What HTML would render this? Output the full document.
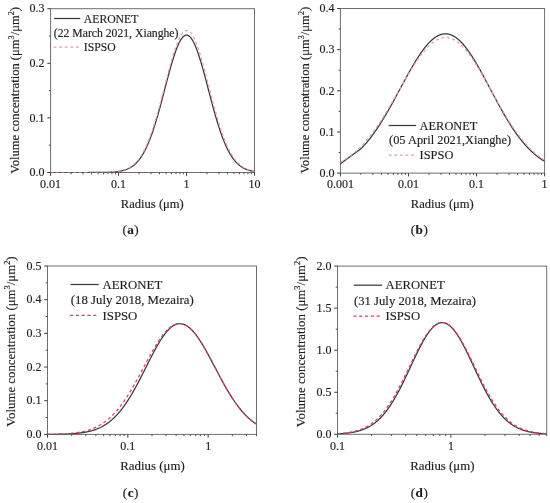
<!DOCTYPE html>
<html><head><meta charset="utf-8"><title>Volume concentration figure</title>
<style>html,body{margin:0;padding:0;background:#fff}body{width:550px;height:503px;position:relative;overflow:hidden}text{stroke:#1e1e1e;stroke-width:0.15px}</style>
</head><body>
<svg width="550" height="503" viewBox="0 0 550 503" style="position:absolute;left:0;top:0;filter:blur(0.3px)">
<rect width="550" height="503" fill="#fff"/>
<g font-family="'Liberation Serif','Times New Roman',serif" fill="#1e1e1e"><rect x="50.6" y="8.7" width="203.9" height="163.8" fill="none" stroke="#6e6e6e" stroke-width="1.0"/>
<clipPath id="clipa"><rect x="50.6" y="5.699999999999999" width="203.9" height="166.8"/></clipPath>
<path d="M50.60,172.50 L51.11,172.50 L51.62,172.50 L52.13,172.50 L52.64,172.50 L53.15,172.50 L53.66,172.50 L54.17,172.50 L54.68,172.50 L55.19,172.50 L55.70,172.50 L56.21,172.50 L56.72,172.50 L57.23,172.50 L57.74,172.50 L58.25,172.50 L58.76,172.50 L59.27,172.50 L59.78,172.50 L60.29,172.50 L60.79,172.50 L61.30,172.50 L61.81,172.50 L62.32,172.50 L62.83,172.50 L63.34,172.50 L63.85,172.50 L64.36,172.50 L64.87,172.50 L65.38,172.50 L65.89,172.50 L66.40,172.50 L66.91,172.50 L67.42,172.50 L67.93,172.50 L68.44,172.50 L68.95,172.50 L69.46,172.50 L69.97,172.50 L70.48,172.50 L70.99,172.50 L71.50,172.50 L72.01,172.50 L72.52,172.50 L73.03,172.50 L73.54,172.50 L74.05,172.50 L74.56,172.50 L75.07,172.50 L75.58,172.50 L76.09,172.50 L76.60,172.50 L77.11,172.50 L77.62,172.50 L78.13,172.50 L78.64,172.50 L79.15,172.50 L79.66,172.50 L80.17,172.50 L80.68,172.50 L81.19,172.50 L81.69,172.50 L82.20,172.50 L82.71,172.50 L83.22,172.50 L83.73,172.50 L84.24,172.50 L84.75,172.50 L85.26,172.50 L85.77,172.50 L86.28,172.50 L86.79,172.50 L87.30,172.50 L87.81,172.50 L88.32,172.49 L88.83,172.49 L89.34,172.49 L89.85,172.49 L90.36,172.49 L90.87,172.49 L91.38,172.49 L91.89,172.49 L92.40,172.49 L92.91,172.49 L93.42,172.49 L93.93,172.48 L94.44,172.48 L94.95,172.48 L95.46,172.48 L95.97,172.48 L96.48,172.47 L96.99,172.47 L97.50,172.47 L98.01,172.47 L98.52,172.46 L99.03,172.46 L99.54,172.45 L100.05,172.45 L100.56,172.44 L101.07,172.44 L101.58,172.43 L102.08,172.43 L102.59,172.42 L103.10,172.41 L103.61,172.40 L104.12,172.40 L104.63,172.39 L105.14,172.37 L105.65,172.36 L106.16,172.35 L106.67,172.34 L107.18,172.32 L107.69,172.31 L108.20,172.29 L108.71,172.27 L109.22,172.25 L109.73,172.23 L110.24,172.21 L110.75,172.18 L111.26,172.16 L111.77,172.13 L112.28,172.10 L112.79,172.06 L113.30,172.03 L113.81,171.99 L114.32,171.95 L114.83,171.90 L115.34,171.85 L115.85,171.80 L116.36,171.75 L116.87,171.69 L117.38,171.62 L117.89,171.56 L118.40,171.48 L118.91,171.41 L119.42,171.33 L119.93,171.24 L120.44,171.14 L120.95,171.04 L121.46,170.94 L121.97,170.82 L122.47,170.70 L122.98,170.58 L123.49,170.44 L124.00,170.30 L124.51,170.14 L125.02,169.98 L125.53,169.81 L126.04,169.63 L126.55,169.44 L127.06,169.23 L127.57,169.02 L128.08,168.79 L128.59,168.55 L129.10,168.30 L129.61,168.03 L130.12,167.75 L130.63,167.45 L131.14,167.14 L131.65,166.81 L132.16,166.46 L132.67,166.10 L133.18,165.72 L133.69,165.32 L134.20,164.90 L134.71,164.47 L135.22,164.01 L135.73,163.53 L136.24,163.02 L136.75,162.50 L137.26,161.95 L137.77,161.38 L138.28,160.78 L138.79,160.16 L139.30,159.51 L139.81,158.84 L140.32,158.13 L140.83,157.40 L141.34,156.65 L141.85,155.86 L142.36,155.04 L142.86,154.20 L143.37,153.32 L143.88,152.41 L144.39,151.47 L144.90,150.50 L145.41,149.50 L145.92,148.47 L146.43,147.40 L146.94,146.30 L147.45,145.16 L147.96,143.99 L148.47,142.79 L148.98,141.56 L149.49,140.29 L150.00,138.98 L150.51,137.65 L151.02,136.28 L151.53,134.88 L152.04,133.44 L152.55,131.97 L153.06,130.47 L153.57,128.94 L154.08,127.38 L154.59,125.78 L155.10,124.16 L155.61,122.51 L156.12,120.83 L156.63,119.12 L157.14,117.39 L157.65,115.63 L158.16,113.85 L158.67,112.04 L159.18,110.22 L159.69,108.37 L160.20,106.51 L160.71,104.63 L161.22,102.73 L161.73,100.82 L162.24,98.90 L162.75,96.97 L163.25,95.03 L163.76,93.08 L164.27,91.13 L164.78,89.18 L165.29,87.23 L165.80,85.28 L166.31,83.33 L166.82,81.39 L167.33,79.46 L167.84,77.54 L168.35,75.64 L168.86,73.75 L169.37,71.88 L169.88,70.03 L170.39,68.20 L170.90,66.40 L171.41,64.62 L171.92,62.88 L172.43,61.17 L172.94,59.50 L173.45,57.86 L173.96,56.27 L174.47,54.71 L174.98,53.21 L175.49,51.74 L176.00,50.33 L176.51,48.97 L177.02,47.66 L177.53,46.41 L178.04,45.22 L178.55,44.08 L179.06,43.01 L179.57,42.00 L180.08,41.05 L180.59,40.17 L181.10,39.35 L181.61,38.61 L182.12,37.93 L182.63,37.33 L183.13,36.79 L183.64,36.33 L184.15,35.95 L184.66,35.63 L185.17,35.39 L185.68,35.23 L186.19,35.14 L186.70,35.13 L187.21,35.19 L187.72,35.33 L188.23,35.54 L188.74,35.83 L189.25,36.20 L189.76,36.63 L190.27,37.14 L190.78,37.72 L191.29,38.37 L191.80,39.10 L192.31,39.89 L192.82,40.75 L193.33,41.67 L193.84,42.66 L194.35,43.72 L194.86,44.83 L195.37,46.01 L195.88,47.24 L196.39,48.53 L196.90,49.87 L197.41,51.27 L197.92,52.71 L198.43,54.21 L198.94,55.75 L199.45,57.33 L199.96,58.95 L200.47,60.61 L200.98,62.31 L201.49,64.04 L202.00,65.80 L202.51,67.60 L203.02,69.41 L203.53,71.26 L204.03,73.12 L204.54,75.00 L205.05,76.90 L205.56,78.82 L206.07,80.75 L206.58,82.68 L207.09,84.63 L207.60,86.58 L208.11,88.53 L208.62,90.48 L209.13,92.43 L209.64,94.38 L210.15,96.32 L210.66,98.26 L211.17,100.18 L211.68,102.10 L212.19,104.00 L212.70,105.88 L213.21,107.75 L213.72,109.61 L214.23,111.44 L214.74,113.25 L215.25,115.04 L215.76,116.81 L216.27,118.55 L216.78,120.26 L217.29,121.95 L217.80,123.61 L218.31,125.25 L218.82,126.85 L219.33,128.42 L219.84,129.96 L220.35,131.48 L220.86,132.95 L221.37,134.40 L221.88,135.81 L222.39,137.19 L222.90,138.54 L223.41,139.86 L223.91,141.14 L224.42,142.38 L224.93,143.60 L225.44,144.78 L225.95,145.92 L226.46,147.03 L226.97,148.11 L227.48,149.16 L227.99,150.17 L228.50,151.15 L229.01,152.10 L229.52,153.02 L230.03,153.91 L230.54,154.76 L231.05,155.59 L231.56,156.39 L232.07,157.15 L232.58,157.89 L233.09,158.60 L233.60,159.29 L234.11,159.94 L234.62,160.58 L235.13,161.18 L235.64,161.76 L236.15,162.32 L236.66,162.85 L237.17,163.36 L237.68,163.85 L238.19,164.31 L238.70,164.76 L239.21,165.18 L239.72,165.59 L240.23,165.98 L240.74,166.35 L241.25,166.70 L241.76,167.03 L242.27,167.35 L242.78,167.65 L243.29,167.94 L243.80,168.21 L244.31,168.47 L244.81,168.71 L245.32,168.94 L245.83,169.16 L246.34,169.37 L246.85,169.56 L247.36,169.75 L247.87,169.93 L248.38,170.09 L248.89,170.25 L249.40,170.39 L249.91,170.53 L250.42,170.66 L250.93,170.79 L251.44,170.90 L251.95,171.01 L252.46,171.11 L252.97,171.21 L253.48,171.30 L253.99,171.38 L254.50,171.46" fill="none" stroke="#383838" stroke-width="1.25" clip-path="url(#clipa)"/>
<path d="M50.60,172.50 L51.11,172.50 L51.62,172.50 L52.13,172.50 L52.64,172.50 L53.15,172.50 L53.66,172.50 L54.17,172.50 L54.68,172.50 L55.19,172.50 L55.70,172.50 L56.21,172.50 L56.72,172.50 L57.23,172.50 L57.74,172.50 L58.25,172.50 L58.76,172.50 L59.27,172.50 L59.78,172.50 L60.29,172.50 L60.79,172.50 L61.30,172.50 L61.81,172.50 L62.32,172.50 L62.83,172.50 L63.34,172.50 L63.85,172.50 L64.36,172.50 L64.87,172.50 L65.38,172.50 L65.89,172.50 L66.40,172.50 L66.91,172.50 L67.42,172.50 L67.93,172.50 L68.44,172.50 L68.95,172.50 L69.46,172.50 L69.97,172.50 L70.48,172.50 L70.99,172.50 L71.50,172.50 L72.01,172.50 L72.52,172.50 L73.03,172.50 L73.54,172.50 L74.05,172.50 L74.56,172.50 L75.07,172.50 L75.58,172.50 L76.09,172.50 L76.60,172.50 L77.11,172.50 L77.62,172.50 L78.13,172.50 L78.64,172.50 L79.15,172.50 L79.66,172.50 L80.17,172.50 L80.68,172.50 L81.19,172.50 L81.69,172.50 L82.20,172.50 L82.71,172.50 L83.22,172.50 L83.73,172.50 L84.24,172.50 L84.75,172.50 L85.26,172.50 L85.77,172.50 L86.28,172.50 L86.79,172.49 L87.30,172.49 L87.81,172.49 L88.32,172.49 L88.83,172.49 L89.34,172.49 L89.85,172.49 L90.36,172.49 L90.87,172.49 L91.38,172.49 L91.89,172.49 L92.40,172.48 L92.91,172.48 L93.42,172.48 L93.93,172.48 L94.44,172.48 L94.95,172.47 L95.46,172.47 L95.97,172.47 L96.48,172.47 L96.99,172.46 L97.50,172.46 L98.01,172.46 L98.52,172.45 L99.03,172.45 L99.54,172.44 L100.05,172.44 L100.56,172.43 L101.07,172.42 L101.58,172.42 L102.08,172.41 L102.59,172.40 L103.10,172.39 L103.61,172.38 L104.12,172.37 L104.63,172.36 L105.14,172.35 L105.65,172.33 L106.16,172.32 L106.67,172.30 L107.18,172.28 L107.69,172.26 L108.20,172.24 L108.71,172.22 L109.22,172.20 L109.73,172.17 L110.24,172.15 L110.75,172.12 L111.26,172.09 L111.77,172.05 L112.28,172.02 L112.79,171.98 L113.30,171.94 L113.81,171.89 L114.32,171.84 L114.83,171.79 L115.34,171.74 L115.85,171.68 L116.36,171.61 L116.87,171.55 L117.38,171.47 L117.89,171.40 L118.40,171.32 L118.91,171.23 L119.42,171.13 L119.93,171.04 L120.44,170.93 L120.95,170.82 L121.46,170.70 L121.97,170.57 L122.47,170.44 L122.98,170.30 L123.49,170.14 L124.00,169.98 L124.51,169.81 L125.02,169.63 L125.53,169.44 L126.04,169.24 L126.55,169.03 L127.06,168.81 L127.57,168.57 L128.08,168.32 L128.59,168.06 L129.10,167.78 L129.61,167.49 L130.12,167.18 L130.63,166.86 L131.14,166.52 L131.65,166.17 L132.16,165.79 L132.67,165.40 L133.18,164.99 L133.69,164.56 L134.20,164.11 L134.71,163.64 L135.22,163.15 L135.73,162.63 L136.24,162.09 L136.75,161.53 L137.26,160.95 L137.77,160.34 L138.28,159.70 L138.79,159.04 L139.30,158.36 L139.81,157.64 L140.32,156.90 L140.83,156.13 L141.34,155.33 L141.85,154.50 L142.36,153.64 L142.86,152.75 L143.37,151.83 L143.88,150.88 L144.39,149.89 L144.90,148.88 L145.41,147.83 L145.92,146.75 L146.43,145.63 L146.94,144.48 L147.45,143.30 L147.96,142.09 L148.47,140.84 L148.98,139.56 L149.49,138.24 L150.00,136.89 L150.51,135.51 L151.02,134.09 L151.53,132.64 L152.04,131.16 L152.55,129.64 L153.06,128.10 L153.57,126.52 L154.08,124.91 L154.59,123.27 L155.10,121.60 L155.61,119.91 L156.12,118.18 L156.63,116.43 L157.14,114.66 L157.65,112.86 L158.16,111.03 L158.67,109.19 L159.18,107.32 L159.69,105.43 L160.20,103.53 L160.71,101.61 L161.22,99.67 L161.73,97.72 L162.24,95.77 L162.75,93.80 L163.25,91.82 L163.76,89.84 L164.27,87.85 L164.78,85.87 L165.29,83.88 L165.80,81.90 L166.31,79.92 L166.82,77.95 L167.33,75.99 L167.84,74.03 L168.35,72.10 L168.86,70.18 L169.37,68.28 L169.88,66.40 L170.39,64.54 L170.90,62.71 L171.41,60.91 L171.92,59.14 L172.43,57.40 L172.94,55.70 L173.45,54.03 L173.96,52.41 L174.47,50.83 L174.98,49.29 L175.49,47.80 L176.00,46.36 L176.51,44.97 L177.02,43.64 L177.53,42.36 L178.04,41.13 L178.55,39.97 L179.06,38.87 L179.57,37.83 L180.08,36.85 L180.59,35.94 L181.10,35.09 L181.61,34.32 L182.12,33.61 L182.63,32.98 L183.13,32.42 L183.64,31.92 L184.15,31.51 L184.66,31.16 L185.17,30.90 L185.68,30.70 L186.19,30.58 L186.70,30.54 L187.21,30.57 L187.72,30.68 L188.23,30.86 L188.74,31.12 L189.25,31.46 L189.76,31.86 L190.27,32.35 L190.78,32.90 L191.29,33.52 L191.80,34.22 L192.31,34.99 L192.82,35.82 L193.33,36.72 L193.84,37.69 L194.35,38.72 L194.86,39.82 L195.37,40.98 L195.88,42.19 L196.39,43.46 L196.90,44.79 L197.41,46.17 L197.92,47.61 L198.43,49.09 L198.94,50.62 L199.45,52.20 L199.96,53.82 L200.47,55.47 L200.98,57.17 L201.49,58.91 L202.00,60.67 L202.51,62.47 L203.02,64.30 L203.53,66.15 L204.03,68.03 L204.54,69.92 L205.05,71.84 L205.56,73.78 L206.07,75.72 L206.58,77.68 L207.09,79.66 L207.60,81.63 L208.11,83.62 L208.62,85.60 L209.13,87.59 L209.64,89.57 L210.15,91.56 L210.66,93.53 L211.17,95.50 L211.68,97.46 L212.19,99.41 L212.70,101.35 L213.21,103.27 L213.72,105.18 L214.23,107.07 L214.74,108.94 L215.25,110.79 L215.76,112.61 L216.27,114.42 L216.78,116.20 L217.29,117.95 L217.80,119.68 L218.31,121.38 L218.82,123.05 L219.33,124.69 L219.84,126.31 L220.35,127.89 L220.86,129.44 L221.37,130.96 L221.88,132.44 L222.39,133.90 L222.90,135.32 L223.41,136.71 L223.91,138.06 L224.42,139.38 L224.93,140.67 L225.44,141.92 L225.95,143.14 L226.46,144.33 L226.97,145.48 L227.48,146.60 L227.99,147.69 L228.50,148.74 L229.01,149.76 L229.52,150.75 L230.03,151.70 L230.54,152.63 L231.05,153.52 L231.56,154.39 L232.07,155.22 L232.58,156.02 L233.09,156.80 L233.60,157.54 L234.11,158.26 L234.62,158.95 L235.13,159.62 L235.64,160.26 L236.15,160.87 L236.66,161.46 L237.17,162.02 L237.68,162.56 L238.19,163.08 L238.70,163.57 L239.21,164.05 L239.72,164.50 L240.23,164.93 L240.74,165.35 L241.25,165.74 L241.76,166.12 L242.27,166.48 L242.78,166.82 L243.29,167.14 L243.80,167.45 L244.31,167.74 L244.81,168.02 L245.32,168.29 L245.83,168.54 L246.34,168.78 L246.85,169.00 L247.36,169.22 L247.87,169.42 L248.38,169.61 L248.89,169.79 L249.40,169.96 L249.91,170.12 L250.42,170.28 L250.93,170.42 L251.44,170.55 L251.95,170.68 L252.46,170.80 L252.97,170.92 L253.48,171.02 L253.99,171.12 L254.50,171.22" fill="none" stroke="#ee98bb" stroke-width="1.25" stroke-dasharray="2.9 2.7" clip-path="url(#clipa)"/>
<line x1="47.300000000000004" y1="172.50" x2="50.6" y2="172.50" stroke="#3c3c3c" stroke-width="1"/>
<text x="44.60" y="176.20" text-anchor="end" font-size="12">0.0</text>
<line x1="48.800000000000004" y1="145.20" x2="50.6" y2="145.20" stroke="#3c3c3c" stroke-width="0.9"/>
<line x1="47.300000000000004" y1="117.90" x2="50.6" y2="117.90" stroke="#3c3c3c" stroke-width="1"/>
<text x="44.60" y="121.60" text-anchor="end" font-size="12">0.1</text>
<line x1="48.800000000000004" y1="90.60" x2="50.6" y2="90.60" stroke="#3c3c3c" stroke-width="0.9"/>
<line x1="47.300000000000004" y1="63.30" x2="50.6" y2="63.30" stroke="#3c3c3c" stroke-width="1"/>
<text x="44.60" y="67.00" text-anchor="end" font-size="12">0.2</text>
<line x1="48.800000000000004" y1="36.00" x2="50.6" y2="36.00" stroke="#3c3c3c" stroke-width="0.9"/>
<line x1="47.300000000000004" y1="8.70" x2="50.6" y2="8.70" stroke="#3c3c3c" stroke-width="1"/>
<text x="44.60" y="12.40" text-anchor="end" font-size="12">0.3</text>
<line x1="50.60" y1="172.5" x2="50.60" y2="175.8" stroke="#3c3c3c" stroke-width="1"/>
<line x1="71.06" y1="172.5" x2="71.06" y2="174.3" stroke="#3c3c3c" stroke-width="0.9"/>
<line x1="83.03" y1="172.5" x2="83.03" y2="174.3" stroke="#3c3c3c" stroke-width="0.9"/>
<line x1="91.52" y1="172.5" x2="91.52" y2="174.3" stroke="#3c3c3c" stroke-width="0.9"/>
<line x1="98.11" y1="172.5" x2="98.11" y2="174.3" stroke="#3c3c3c" stroke-width="0.9"/>
<line x1="103.49" y1="172.5" x2="103.49" y2="174.3" stroke="#3c3c3c" stroke-width="0.9"/>
<line x1="108.04" y1="172.5" x2="108.04" y2="174.3" stroke="#3c3c3c" stroke-width="0.9"/>
<line x1="111.98" y1="172.5" x2="111.98" y2="174.3" stroke="#3c3c3c" stroke-width="0.9"/>
<line x1="115.46" y1="172.5" x2="115.46" y2="174.3" stroke="#3c3c3c" stroke-width="0.9"/>
<line x1="118.57" y1="172.5" x2="118.57" y2="175.8" stroke="#3c3c3c" stroke-width="1"/>
<line x1="139.03" y1="172.5" x2="139.03" y2="174.3" stroke="#3c3c3c" stroke-width="0.9"/>
<line x1="151.00" y1="172.5" x2="151.00" y2="174.3" stroke="#3c3c3c" stroke-width="0.9"/>
<line x1="159.49" y1="172.5" x2="159.49" y2="174.3" stroke="#3c3c3c" stroke-width="0.9"/>
<line x1="166.07" y1="172.5" x2="166.07" y2="174.3" stroke="#3c3c3c" stroke-width="0.9"/>
<line x1="171.46" y1="172.5" x2="171.46" y2="174.3" stroke="#3c3c3c" stroke-width="0.9"/>
<line x1="176.01" y1="172.5" x2="176.01" y2="174.3" stroke="#3c3c3c" stroke-width="0.9"/>
<line x1="179.95" y1="172.5" x2="179.95" y2="174.3" stroke="#3c3c3c" stroke-width="0.9"/>
<line x1="183.42" y1="172.5" x2="183.42" y2="174.3" stroke="#3c3c3c" stroke-width="0.9"/>
<line x1="186.53" y1="172.5" x2="186.53" y2="175.8" stroke="#3c3c3c" stroke-width="1"/>
<line x1="206.99" y1="172.5" x2="206.99" y2="174.3" stroke="#3c3c3c" stroke-width="0.9"/>
<line x1="218.96" y1="172.5" x2="218.96" y2="174.3" stroke="#3c3c3c" stroke-width="0.9"/>
<line x1="227.45" y1="172.5" x2="227.45" y2="174.3" stroke="#3c3c3c" stroke-width="0.9"/>
<line x1="234.04" y1="172.5" x2="234.04" y2="174.3" stroke="#3c3c3c" stroke-width="0.9"/>
<line x1="239.42" y1="172.5" x2="239.42" y2="174.3" stroke="#3c3c3c" stroke-width="0.9"/>
<line x1="243.97" y1="172.5" x2="243.97" y2="174.3" stroke="#3c3c3c" stroke-width="0.9"/>
<line x1="247.91" y1="172.5" x2="247.91" y2="174.3" stroke="#3c3c3c" stroke-width="0.9"/>
<line x1="251.39" y1="172.5" x2="251.39" y2="174.3" stroke="#3c3c3c" stroke-width="0.9"/>
<line x1="254.50" y1="172.5" x2="254.50" y2="175.8" stroke="#3c3c3c" stroke-width="1"/>
<text x="50.60" y="187.70" text-anchor="middle" font-size="12">0.01</text>
<text x="118.57" y="187.70" text-anchor="middle" font-size="12">0.1</text>
<text x="186.53" y="187.70" text-anchor="middle" font-size="12">1</text>
<text x="254.50" y="187.70" text-anchor="middle" font-size="12">10</text>
<text transform="translate(18.7,90.4) rotate(-90)" text-anchor="middle" font-size="12.58">Volume concentration (μm<tspan font-size="8.18" dy="-4.78">3</tspan><tspan dy="4.78">/μm</tspan><tspan font-size="8.18" dy="-4.78">2</tspan><tspan dy="4.78">)</tspan></text>
<text x="152.3" y="207.8" text-anchor="middle" font-size="12.6">Radius (μm)</text>
<text x="130.8" y="233.7" text-anchor="middle" font-size="13.2" letter-spacing="0.45">(<tspan font-weight="bold">a</tspan>)</text>
<line x1="54.1" y1="18.5" x2="80.3" y2="18.5" stroke="#383838" stroke-width="1.25"/>
<line x1="53.6" y1="47.0" x2="79.0" y2="47.0" stroke="#ee98bb" stroke-width="1.25" stroke-dasharray="2.9 2.7"/>
<text x="83.8" y="22.6" font-size="11.7">AERONET</text>
<text x="53.8" y="36.7" font-size="11.7">(22 March 2021, Xianghe)</text>
<text x="83.8" y="51.2" font-size="11.7">ISPSO</text></g>
<g font-family="'Liberation Serif','Times New Roman',serif" fill="#1e1e1e"><rect x="340.4" y="8.5" width="204.20000000000005" height="164.6" fill="none" stroke="#6e6e6e" stroke-width="1.0"/>
<clipPath id="clipb"><rect x="340.4" y="5.5" width="204.20000000000005" height="167.6"/></clipPath>
<path d="M340.40,163.70 L360.89,148.82 L361.35,148.36 L361.81,147.89 L362.27,147.41 L362.73,146.93 L363.19,146.44 L363.65,145.95 L364.11,145.44 L364.56,144.94 L365.02,144.42 L365.48,143.90 L365.94,143.38 L366.40,142.84 L366.86,142.30 L367.32,141.76 L367.78,141.20 L368.24,140.65 L368.70,140.08 L369.16,139.51 L369.62,138.93 L370.08,138.35 L370.53,137.76 L370.99,137.16 L371.45,136.55 L371.91,135.94 L372.37,135.33 L372.83,134.71 L373.29,134.08 L373.75,133.44 L374.21,132.80 L374.67,132.16 L375.13,131.50 L375.59,130.84 L376.05,130.18 L376.51,129.51 L376.96,128.83 L377.42,128.15 L377.88,127.46 L378.34,126.76 L378.80,126.06 L379.26,125.36 L379.72,124.64 L380.18,123.93 L380.64,123.20 L381.10,122.48 L381.56,121.74 L382.02,121.00 L382.48,120.26 L382.94,119.51 L383.39,118.76 L383.85,118.00 L384.31,117.23 L384.77,116.47 L385.23,115.69 L385.69,114.91 L386.15,114.13 L386.61,113.35 L387.07,112.55 L387.53,111.76 L387.99,110.96 L388.45,110.16 L388.91,109.35 L389.37,108.54 L389.82,107.73 L390.28,106.91 L390.74,106.09 L391.20,105.26 L391.66,104.44 L392.12,103.61 L392.58,102.77 L393.04,101.94 L393.50,101.10 L393.96,100.26 L394.42,99.42 L394.88,98.57 L395.34,97.72 L395.79,96.88 L396.25,96.03 L396.71,95.17 L397.17,94.32 L397.63,93.47 L398.09,92.61 L398.55,91.76 L399.01,90.90 L399.47,90.04 L399.93,89.19 L400.39,88.33 L400.85,87.47 L401.31,86.62 L401.77,85.76 L402.22,84.90 L402.68,84.05 L403.14,83.19 L403.60,82.34 L404.06,81.49 L404.52,80.64 L404.98,79.79 L405.44,78.94 L405.90,78.10 L406.36,77.26 L406.82,76.42 L407.28,75.58 L407.74,74.75 L408.20,73.92 L408.65,73.09 L409.11,72.26 L409.57,71.44 L410.03,70.63 L410.49,69.81 L410.95,69.01 L411.41,68.20 L411.87,67.40 L412.33,66.61 L412.79,65.82 L413.25,65.04 L413.71,64.26 L414.17,63.48 L414.63,62.72 L415.08,61.96 L415.54,61.20 L416.00,60.45 L416.46,59.71 L416.92,58.98 L417.38,58.25 L417.84,57.53 L418.30,56.82 L418.76,56.11 L419.22,55.41 L419.68,54.73 L420.14,54.04 L420.60,53.37 L421.06,52.71 L421.51,52.05 L421.97,51.41 L422.43,50.77 L422.89,50.14 L423.35,49.52 L423.81,48.91 L424.27,48.32 L424.73,47.73 L425.19,47.15 L425.65,46.58 L426.11,46.02 L426.57,45.47 L427.03,44.94 L427.48,44.41 L427.94,43.90 L428.40,43.40 L428.86,42.91 L429.32,42.43 L429.78,41.96 L430.24,41.50 L430.70,41.06 L431.16,40.63 L431.62,40.21 L432.08,39.80 L432.54,39.40 L433.00,39.02 L433.46,38.65 L433.91,38.30 L434.37,37.95 L434.83,37.62 L435.29,37.30 L435.75,37.00 L436.21,36.71 L436.67,36.43 L437.13,36.17 L437.59,35.92 L438.05,35.68 L438.51,35.46 L438.97,35.25 L439.43,35.06 L439.89,34.87 L440.34,34.71 L440.80,34.55 L441.26,34.42 L441.72,34.29 L442.18,34.18 L442.64,34.08 L443.10,34.00 L443.56,33.94 L444.02,33.88 L444.48,33.84 L444.94,33.82 L445.40,33.81 L445.86,33.81 L446.32,33.83 L446.77,33.86 L447.23,33.91 L447.69,33.98 L448.15,34.05 L448.61,34.15 L449.07,34.25 L449.53,34.38 L449.99,34.51 L450.45,34.66 L450.91,34.83 L451.37,35.01 L451.83,35.20 L452.29,35.41 L452.75,35.63 L453.20,35.87 L453.66,36.12 L454.12,36.39 L454.58,36.67 L455.04,36.96 L455.50,37.27 L455.96,37.59 L456.42,37.92 L456.88,38.27 L457.34,38.63 L457.80,39.01 L458.26,39.39 L458.72,39.79 L459.17,40.21 L459.63,40.63 L460.09,41.07 L460.55,41.52 L461.01,41.99 L461.47,42.46 L461.93,42.95 L462.39,43.45 L462.85,43.96 L463.31,44.49 L463.77,45.02 L464.23,45.57 L464.69,46.13 L465.15,46.70 L465.60,47.27 L466.06,47.86 L466.52,48.46 L466.98,49.07 L467.44,49.70 L467.90,50.33 L468.36,50.97 L468.82,51.62 L469.28,52.28 L469.74,52.94 L470.20,53.62 L470.66,54.31 L471.12,55.00 L471.58,55.71 L472.03,56.42 L472.49,57.14 L472.95,57.86 L473.41,58.60 L473.87,59.34 L474.33,60.09 L474.79,60.85 L475.25,61.61 L475.71,62.38 L476.17,63.15 L476.63,63.94 L477.09,64.72 L477.55,65.52 L478.01,66.32 L478.46,67.12 L478.92,67.93 L479.38,68.75 L479.84,69.57 L480.30,70.39 L480.76,71.22 L481.22,72.05 L481.68,72.89 L482.14,73.73 L482.60,74.57 L483.06,75.41 L483.52,76.26 L483.98,77.12 L484.44,77.97 L484.89,78.83 L485.35,79.69 L485.81,80.55 L486.27,81.41 L486.73,82.28 L487.19,83.14 L487.65,84.01 L488.11,84.88 L488.57,85.75 L489.03,86.61 L489.49,87.48 L489.95,88.36 L490.41,89.23 L490.86,90.10 L491.32,90.97 L491.78,91.83 L492.24,92.70 L492.70,93.57 L493.16,94.44 L493.62,95.30 L494.08,96.17 L494.54,97.03 L495.00,97.89 L495.46,98.75 L495.92,99.61 L496.38,100.46 L496.84,101.32 L497.29,102.17 L497.75,103.01 L498.21,103.86 L498.67,104.70 L499.13,105.54 L499.59,106.37 L500.05,107.21 L500.51,108.04 L500.97,108.86 L501.43,109.68 L501.89,110.50 L502.35,111.31 L502.81,112.12 L503.27,112.93 L503.72,113.73 L504.18,114.53 L504.64,115.32 L505.10,116.11 L505.56,116.89 L506.02,117.67 L506.48,118.44 L506.94,119.21 L507.40,119.97 L507.86,120.73 L508.32,121.48 L508.78,122.22 L509.24,122.97 L509.70,123.70 L510.15,124.43 L510.61,125.15 L511.07,125.87 L511.53,126.59 L511.99,127.29 L512.45,127.99 L512.91,128.69 L513.37,129.38 L513.83,130.06 L514.29,130.74 L514.75,131.41 L515.21,132.07 L515.67,132.73 L516.12,133.38 L516.58,134.02 L517.04,134.66 L517.50,135.29 L517.96,135.92 L518.42,136.54 L518.88,137.15 L519.34,137.76 L519.80,138.36 L520.26,138.95 L520.72,139.54 L521.18,140.12 L521.64,140.69 L522.10,141.26 L522.55,141.82 L523.01,142.37 L523.47,142.92 L523.93,143.46 L524.39,143.99 L524.85,144.52 L525.31,145.04 L525.77,145.56 L526.23,146.06 L526.69,146.56 L527.15,147.06 L527.61,147.55 L528.07,148.03 L528.53,148.50 L528.98,148.97 L529.44,149.43 L529.90,149.89 L530.36,150.34 L530.82,150.78 L531.28,151.22 L531.74,151.65 L532.20,152.07 L532.66,152.49 L533.12,152.90 L533.58,153.31 L534.04,153.71 L534.50,154.10 L534.96,154.49 L535.41,154.87 L535.87,155.25 L536.33,155.62 L536.79,155.98 L537.25,156.34 L537.71,156.69 L538.17,157.04 L538.63,157.38 L539.09,157.72 L539.55,158.05 L540.01,158.37 L540.47,158.69 L540.93,159.00 L541.39,159.31 L541.84,159.61 L542.30,159.91 L542.76,160.20 L543.22,160.49 L543.68,160.77 L544.14,161.05 L544.60,161.32" fill="none" stroke="#383838" stroke-width="1.25" clip-path="url(#clipb)"/>
<path d="M340.40,162.10 L340.91,161.83 L341.42,161.55 L341.93,161.27 L342.44,160.99 L342.95,160.69 L343.46,160.40 L343.97,160.09 L344.48,159.79 L344.99,159.47 L345.50,159.15 L346.02,158.82 L346.53,158.49 L347.04,158.15 L347.55,157.81 L348.06,157.46 L348.57,157.10 L349.08,156.74 L349.59,156.37 L350.10,156.00 L350.61,155.61 L351.12,155.23 L351.63,154.83 L352.14,154.43 L352.65,154.02 L353.16,153.61 L353.67,153.19 L354.18,152.76 L354.69,152.33 L355.20,151.89 L355.71,151.44 L356.23,150.99 L356.74,150.52 L357.25,150.06 L357.76,149.58 L358.27,149.10 L358.78,148.61 L359.29,148.11 L359.80,147.61 L360.31,147.10 L360.82,146.58 L361.33,146.06 L361.84,145.53 L362.35,144.99 L362.86,144.44 L363.37,143.89 L363.88,143.33 L364.39,142.76 L364.90,142.19 L365.41,141.61 L365.92,141.02 L366.44,140.42 L366.95,139.82 L367.46,139.21 L367.97,138.60 L368.48,137.97 L368.99,137.34 L369.50,136.70 L370.01,136.06 L370.52,135.40 L371.03,134.75 L371.54,134.08 L372.05,133.41 L372.56,132.73 L373.07,132.04 L373.58,131.35 L374.09,130.65 L374.60,129.94 L375.11,129.23 L375.62,128.51 L376.13,127.78 L376.65,127.05 L377.16,126.31 L377.67,125.57 L378.18,124.82 L378.69,124.06 L379.20,123.29 L379.71,122.53 L380.22,121.75 L380.73,120.97 L381.24,120.18 L381.75,119.39 L382.26,118.59 L382.77,117.79 L383.28,116.98 L383.79,116.17 L384.30,115.35 L384.81,114.53 L385.32,113.70 L385.83,112.87 L386.34,112.04 L386.86,111.20 L387.37,110.35 L387.88,109.50 L388.39,108.65 L388.90,107.79 L389.41,106.93 L389.92,106.07 L390.43,105.20 L390.94,104.34 L391.45,103.46 L391.96,102.59 L392.47,101.71 L392.98,100.83 L393.49,99.95 L394.00,99.06 L394.51,98.18 L395.02,97.29 L395.53,96.40 L396.04,95.51 L396.56,94.62 L397.07,93.73 L397.58,92.83 L398.09,91.94 L398.60,91.04 L399.11,90.15 L399.62,89.26 L400.13,88.36 L400.64,87.47 L401.15,86.58 L401.66,85.69 L402.17,84.80 L402.68,83.91 L403.19,83.02 L403.70,82.14 L404.21,81.26 L404.72,80.38 L405.23,79.50 L405.74,78.63 L406.25,77.75 L406.76,76.89 L407.28,76.02 L407.79,75.16 L408.30,74.30 L408.81,73.45 L409.32,72.60 L409.83,71.76 L410.34,70.92 L410.85,70.09 L411.36,69.26 L411.87,68.44 L412.38,67.63 L412.89,66.82 L413.40,66.01 L413.91,65.22 L414.42,64.43 L414.93,63.65 L415.44,62.87 L415.95,62.10 L416.46,61.34 L416.98,60.59 L417.49,59.85 L418.00,59.12 L418.51,58.39 L419.02,57.67 L419.53,56.97 L420.04,56.27 L420.55,55.58 L421.06,54.90 L421.57,54.23 L422.08,53.58 L422.59,52.93 L423.10,52.29 L423.61,51.67 L424.12,51.05 L424.63,50.45 L425.14,49.86 L425.65,49.28 L426.16,48.71 L426.67,48.16 L427.19,47.61 L427.70,47.08 L428.21,46.57 L428.72,46.06 L429.23,45.57 L429.74,45.09 L430.25,44.63 L430.76,44.17 L431.27,43.74 L431.78,43.31 L432.29,42.90 L432.80,42.51 L433.31,42.12 L433.82,41.76 L434.33,41.40 L434.84,41.07 L435.35,40.74 L435.86,40.43 L436.37,40.14 L436.88,39.86 L437.39,39.60 L437.91,39.35 L438.42,39.12 L438.93,38.90 L439.44,38.70 L439.95,38.51 L440.46,38.34 L440.97,38.19 L441.48,38.05 L441.99,37.93 L442.50,37.82 L443.01,37.73 L443.52,37.65 L444.03,37.59 L444.54,37.55 L445.05,37.52 L445.56,37.51 L446.07,37.52 L446.58,37.54 L447.09,37.58 L447.61,37.63 L448.12,37.71 L448.63,37.79 L449.14,37.90 L449.65,38.02 L450.16,38.16 L450.67,38.32 L451.18,38.49 L451.69,38.68 L452.20,38.89 L452.71,39.11 L453.22,39.35 L453.73,39.61 L454.24,39.88 L454.75,40.17 L455.26,40.47 L455.77,40.79 L456.28,41.12 L456.79,41.47 L457.30,41.84 L457.81,42.22 L458.33,42.62 L458.84,43.03 L459.35,43.46 L459.86,43.90 L460.37,44.35 L460.88,44.82 L461.39,45.31 L461.90,45.81 L462.41,46.32 L462.92,46.85 L463.43,47.39 L463.94,47.94 L464.45,48.51 L464.96,49.09 L465.47,49.68 L465.98,50.28 L466.49,50.90 L467.00,51.53 L467.51,52.17 L468.02,52.82 L468.54,53.48 L469.05,54.16 L469.56,54.84 L470.07,55.54 L470.58,56.25 L471.09,56.97 L471.60,57.69 L472.11,58.43 L472.62,59.18 L473.13,59.93 L473.64,60.70 L474.15,61.47 L474.66,62.25 L475.17,63.04 L475.68,63.84 L476.19,64.65 L476.70,65.46 L477.21,66.28 L477.72,67.11 L478.24,67.95 L478.75,68.79 L479.26,69.64 L479.77,70.49 L480.28,71.35 L480.79,72.21 L481.30,73.08 L481.81,73.96 L482.32,74.84 L482.83,75.72 L483.34,76.61 L483.85,77.50 L484.36,78.39 L484.87,79.29 L485.38,80.19 L485.89,81.10 L486.40,82.01 L486.91,82.91 L487.42,83.83 L487.93,84.74 L488.44,85.65 L488.96,86.57 L489.47,87.49 L489.98,88.41 L490.49,89.32 L491.00,90.24 L491.51,91.16 L492.02,92.08 L492.53,93.00 L493.04,93.92 L493.55,94.84 L494.06,95.75 L494.57,96.67 L495.08,97.58 L495.59,98.49 L496.10,99.40 L496.61,100.31 L497.12,101.22 L497.63,102.12 L498.14,103.02 L498.66,103.92 L499.17,104.82 L499.68,105.71 L500.19,106.60 L500.70,107.49 L501.21,108.37 L501.72,109.25 L502.23,110.12 L502.74,110.99 L503.25,111.85 L503.76,112.71 L504.27,113.57 L504.78,114.42 L505.29,115.27 L505.80,116.11 L506.31,116.95 L506.82,117.78 L507.33,118.60 L507.84,119.42 L508.35,120.24 L508.87,121.04 L509.38,121.85 L509.89,122.64 L510.40,123.43 L510.91,124.22 L511.42,124.99 L511.93,125.76 L512.44,126.53 L512.95,127.29 L513.46,128.04 L513.97,128.78 L514.48,129.52 L514.99,130.25 L515.50,130.97 L516.01,131.69 L516.52,132.40 L517.03,133.10 L517.54,133.79 L518.05,134.48 L518.56,135.16 L519.08,135.84 L519.59,136.50 L520.10,137.16 L520.61,137.81 L521.12,138.45 L521.63,139.09 L522.14,139.72 L522.65,140.34 L523.16,140.95 L523.67,141.56 L524.18,142.16 L524.69,142.75 L525.20,143.33 L525.71,143.91 L526.22,144.48 L526.73,145.04 L527.24,145.59 L527.75,146.13 L528.26,146.67 L528.77,147.20 L529.28,147.73 L529.80,148.24 L530.31,148.75 L530.82,149.25 L531.33,149.74 L531.84,150.23 L532.35,150.71 L532.86,151.18 L533.37,151.64 L533.88,152.10 L534.39,152.55 L534.90,152.99 L535.41,153.43 L535.92,153.86 L536.43,154.28 L536.94,154.69 L537.45,155.10 L537.96,155.50 L538.47,155.90 L538.98,156.28 L539.50,156.66 L540.01,157.04 L540.52,157.41 L541.03,157.77 L541.54,158.12 L542.05,158.47 L542.56,158.81 L543.07,159.15 L543.58,159.48 L544.09,159.80 L544.60,160.12" fill="none" stroke="#ee98bb" stroke-width="1.25" stroke-dasharray="2.9 2.7" clip-path="url(#clipb)"/>
<line x1="337.09999999999997" y1="173.10" x2="340.4" y2="173.10" stroke="#3c3c3c" stroke-width="1"/>
<text x="334.40" y="176.80" text-anchor="end" font-size="12">0.0</text>
<line x1="338.59999999999997" y1="152.53" x2="340.4" y2="152.53" stroke="#3c3c3c" stroke-width="0.9"/>
<line x1="337.09999999999997" y1="131.95" x2="340.4" y2="131.95" stroke="#3c3c3c" stroke-width="1"/>
<text x="334.40" y="135.65" text-anchor="end" font-size="12">0.1</text>
<line x1="338.59999999999997" y1="111.37" x2="340.4" y2="111.37" stroke="#3c3c3c" stroke-width="0.9"/>
<line x1="337.09999999999997" y1="90.80" x2="340.4" y2="90.80" stroke="#3c3c3c" stroke-width="1"/>
<text x="334.40" y="94.50" text-anchor="end" font-size="12">0.2</text>
<line x1="338.59999999999997" y1="70.22" x2="340.4" y2="70.22" stroke="#3c3c3c" stroke-width="0.9"/>
<line x1="337.09999999999997" y1="49.65" x2="340.4" y2="49.65" stroke="#3c3c3c" stroke-width="1"/>
<text x="334.40" y="53.35" text-anchor="end" font-size="12">0.3</text>
<line x1="338.59999999999997" y1="29.07" x2="340.4" y2="29.07" stroke="#3c3c3c" stroke-width="0.9"/>
<line x1="337.09999999999997" y1="8.50" x2="340.4" y2="8.50" stroke="#3c3c3c" stroke-width="1"/>
<text x="334.40" y="12.20" text-anchor="end" font-size="12">0.4</text>
<line x1="340.40" y1="173.1" x2="340.40" y2="176.4" stroke="#3c3c3c" stroke-width="1"/>
<line x1="360.89" y1="173.1" x2="360.89" y2="174.9" stroke="#3c3c3c" stroke-width="0.9"/>
<line x1="372.88" y1="173.1" x2="372.88" y2="174.9" stroke="#3c3c3c" stroke-width="0.9"/>
<line x1="381.38" y1="173.1" x2="381.38" y2="174.9" stroke="#3c3c3c" stroke-width="0.9"/>
<line x1="387.98" y1="173.1" x2="387.98" y2="174.9" stroke="#3c3c3c" stroke-width="0.9"/>
<line x1="393.37" y1="173.1" x2="393.37" y2="174.9" stroke="#3c3c3c" stroke-width="0.9"/>
<line x1="397.92" y1="173.1" x2="397.92" y2="174.9" stroke="#3c3c3c" stroke-width="0.9"/>
<line x1="401.87" y1="173.1" x2="401.87" y2="174.9" stroke="#3c3c3c" stroke-width="0.9"/>
<line x1="405.35" y1="173.1" x2="405.35" y2="174.9" stroke="#3c3c3c" stroke-width="0.9"/>
<line x1="408.47" y1="173.1" x2="408.47" y2="176.4" stroke="#3c3c3c" stroke-width="1"/>
<line x1="428.96" y1="173.1" x2="428.96" y2="174.9" stroke="#3c3c3c" stroke-width="0.9"/>
<line x1="440.94" y1="173.1" x2="440.94" y2="174.9" stroke="#3c3c3c" stroke-width="0.9"/>
<line x1="449.45" y1="173.1" x2="449.45" y2="174.9" stroke="#3c3c3c" stroke-width="0.9"/>
<line x1="456.04" y1="173.1" x2="456.04" y2="174.9" stroke="#3c3c3c" stroke-width="0.9"/>
<line x1="461.43" y1="173.1" x2="461.43" y2="174.9" stroke="#3c3c3c" stroke-width="0.9"/>
<line x1="465.99" y1="173.1" x2="465.99" y2="174.9" stroke="#3c3c3c" stroke-width="0.9"/>
<line x1="469.94" y1="173.1" x2="469.94" y2="174.9" stroke="#3c3c3c" stroke-width="0.9"/>
<line x1="473.42" y1="173.1" x2="473.42" y2="174.9" stroke="#3c3c3c" stroke-width="0.9"/>
<line x1="476.53" y1="173.1" x2="476.53" y2="176.4" stroke="#3c3c3c" stroke-width="1"/>
<line x1="497.02" y1="173.1" x2="497.02" y2="174.9" stroke="#3c3c3c" stroke-width="0.9"/>
<line x1="509.01" y1="173.1" x2="509.01" y2="174.9" stroke="#3c3c3c" stroke-width="0.9"/>
<line x1="517.51" y1="173.1" x2="517.51" y2="174.9" stroke="#3c3c3c" stroke-width="0.9"/>
<line x1="524.11" y1="173.1" x2="524.11" y2="174.9" stroke="#3c3c3c" stroke-width="0.9"/>
<line x1="529.50" y1="173.1" x2="529.50" y2="174.9" stroke="#3c3c3c" stroke-width="0.9"/>
<line x1="534.06" y1="173.1" x2="534.06" y2="174.9" stroke="#3c3c3c" stroke-width="0.9"/>
<line x1="538.00" y1="173.1" x2="538.00" y2="174.9" stroke="#3c3c3c" stroke-width="0.9"/>
<line x1="541.49" y1="173.1" x2="541.49" y2="174.9" stroke="#3c3c3c" stroke-width="0.9"/>
<line x1="544.60" y1="173.1" x2="544.60" y2="176.4" stroke="#3c3c3c" stroke-width="1"/>
<text x="340.40" y="188.30" text-anchor="middle" font-size="12">0.001</text>
<text x="408.47" y="188.30" text-anchor="middle" font-size="12">0.01</text>
<text x="476.53" y="188.30" text-anchor="middle" font-size="12">0.1</text>
<text x="544.60" y="188.30" text-anchor="middle" font-size="12">1</text>
<text transform="translate(308.7,90.2) rotate(-90)" text-anchor="middle" font-size="12.58">Volume concentration (μm<tspan font-size="8.18" dy="-4.78">3</tspan><tspan dy="4.78">/μm</tspan><tspan font-size="8.18" dy="-4.78">2</tspan><tspan dy="4.78">)</tspan></text>
<text x="442.3" y="207.8" text-anchor="middle" font-size="12.6">Radius (μm)</text>
<text x="419.5" y="233.7" text-anchor="middle" font-size="13.2" letter-spacing="0.45">(<tspan font-weight="bold">b</tspan>)</text>
<line x1="388.7" y1="125.5" x2="416.1" y2="125.5" stroke="#383838" stroke-width="1.25"/>
<line x1="388.7" y1="155.1" x2="414.2" y2="155.1" stroke="#ee98bb" stroke-width="1.25" stroke-dasharray="2.9 2.7"/>
<text x="419.6" y="129.7" font-size="12.4">AERONET</text>
<text x="389" y="144.2" font-size="12.4">(05 April 2021,Xianghe)</text>
<text x="419.6" y="159.4" font-size="12.4">ISPSO</text></g>
<g font-family="'Liberation Serif','Times New Roman',serif" fill="#1e1e1e"><rect x="47.5" y="266.0" width="209.0" height="168.39999999999998" fill="none" stroke="#6e6e6e" stroke-width="1.0"/>
<clipPath id="clipc"><rect x="47.5" y="263.0" width="209.0" height="171.39999999999998"/></clipPath>
<path d="M47.50,434.35 L48.02,434.35 L48.54,434.34 L49.07,434.34 L49.59,434.34 L50.11,434.33 L50.63,434.33 L51.16,434.32 L51.68,434.32 L52.20,434.31 L52.72,434.31 L53.25,434.30 L53.77,434.30 L54.29,434.29 L54.81,434.28 L55.34,434.28 L55.86,434.27 L56.38,434.26 L56.91,434.25 L57.43,434.25 L57.95,434.24 L58.47,434.23 L59.00,434.22 L59.52,434.21 L60.04,434.20 L60.56,434.18 L61.09,434.17 L61.61,434.16 L62.13,434.15 L62.65,434.13 L63.18,434.12 L63.70,434.10 L64.22,434.09 L64.74,434.07 L65.26,434.05 L65.79,434.03 L66.31,434.01 L66.83,433.99 L67.35,433.97 L67.88,433.95 L68.40,433.92 L68.92,433.90 L69.44,433.87 L69.97,433.84 L70.49,433.82 L71.01,433.79 L71.53,433.75 L72.06,433.72 L72.58,433.69 L73.10,433.65 L73.62,433.61 L74.15,433.57 L74.67,433.53 L75.19,433.49 L75.72,433.45 L76.24,433.40 L76.76,433.35 L77.28,433.30 L77.81,433.25 L78.33,433.19 L78.85,433.14 L79.37,433.08 L79.90,433.01 L80.42,432.95 L80.94,432.88 L81.46,432.81 L81.99,432.74 L82.51,432.66 L83.03,432.58 L83.55,432.50 L84.07,432.41 L84.60,432.33 L85.12,432.23 L85.64,432.14 L86.16,432.04 L86.69,431.93 L87.21,431.83 L87.73,431.72 L88.25,431.60 L88.78,431.48 L89.30,431.36 L89.82,431.23 L90.34,431.09 L90.87,430.96 L91.39,430.81 L91.91,430.66 L92.44,430.51 L92.96,430.35 L93.48,430.19 L94.00,430.02 L94.53,429.84 L95.05,429.66 L95.57,429.48 L96.09,429.28 L96.62,429.08 L97.14,428.88 L97.66,428.66 L98.18,428.44 L98.70,428.22 L99.23,427.98 L99.75,427.74 L100.27,427.49 L100.80,427.24 L101.32,426.98 L101.84,426.70 L102.36,426.43 L102.88,426.14 L103.41,425.84 L103.93,425.54 L104.45,425.22 L104.97,424.90 L105.50,424.57 L106.02,424.23 L106.54,423.88 L107.06,423.53 L107.59,423.16 L108.11,422.78 L108.63,422.39 L109.16,422.00 L109.68,421.59 L110.20,421.17 L110.72,420.75 L111.25,420.31 L111.77,419.86 L112.29,419.40 L112.81,418.93 L113.33,418.45 L113.86,417.96 L114.38,417.46 L114.90,416.94 L115.42,416.42 L115.95,415.88 L116.47,415.33 L116.99,414.77 L117.51,414.20 L118.04,413.62 L118.56,413.02 L119.08,412.42 L119.61,411.80 L120.13,411.17 L120.65,410.53 L121.17,409.87 L121.69,409.21 L122.22,408.53 L122.74,407.84 L123.26,407.14 L123.78,406.43 L124.31,405.70 L124.83,404.97 L125.35,404.22 L125.88,403.46 L126.40,402.69 L126.92,401.91 L127.44,401.11 L127.97,400.31 L128.49,399.49 L129.01,398.66 L129.53,397.83 L130.06,396.98 L130.58,396.12 L131.10,395.25 L131.62,394.37 L132.15,393.48 L132.67,392.58 L133.19,391.67 L133.71,390.76 L134.24,389.83 L134.76,388.89 L135.28,387.95 L135.80,387.00 L136.32,386.04 L136.85,385.07 L137.37,384.09 L137.89,383.11 L138.42,382.12 L138.94,381.13 L139.46,380.13 L139.98,379.12 L140.50,378.11 L141.03,377.09 L141.55,376.07 L142.07,375.05 L142.59,374.02 L143.12,372.99 L143.64,371.95 L144.16,370.92 L144.69,369.88 L145.21,368.84 L145.73,367.80 L146.25,366.76 L146.78,365.72 L147.30,364.68 L147.82,363.65 L148.34,362.61 L148.87,361.58 L149.39,360.55 L149.91,359.52 L150.43,358.49 L150.96,357.48 L151.48,356.46 L152.00,355.45 L152.52,354.45 L153.05,353.46 L153.57,352.47 L154.09,351.49 L154.61,350.51 L155.13,349.55 L155.66,348.60 L156.18,347.65 L156.70,346.72 L157.23,345.80 L157.75,344.89 L158.27,343.99 L158.79,343.11 L159.31,342.24 L159.84,341.38 L160.36,340.54 L160.88,339.71 L161.41,338.90 L161.93,338.10 L162.45,337.32 L162.97,336.56 L163.50,335.81 L164.02,335.09 L164.54,334.38 L165.06,333.69 L165.59,333.02 L166.11,332.37 L166.63,331.75 L167.15,331.14 L167.68,330.55 L168.20,329.99 L168.72,329.45 L169.24,328.93 L169.76,328.43 L170.29,327.96 L170.81,327.51 L171.33,327.08 L171.85,326.68 L172.38,326.30 L172.90,325.95 L173.42,325.62 L173.94,325.32 L174.47,325.04 L174.99,324.79 L175.51,324.56 L176.03,324.36 L176.56,324.19 L177.08,324.04 L177.60,323.92 L178.12,323.82 L178.65,323.75 L179.17,323.71 L179.69,323.69 L180.22,323.70 L180.74,323.74 L181.26,323.80 L181.78,323.88 L182.31,323.99 L182.83,324.12 L183.35,324.27 L183.87,324.45 L184.40,324.66 L184.92,324.89 L185.44,325.14 L185.96,325.41 L186.49,325.71 L187.01,326.03 L187.53,326.37 L188.05,326.74 L188.57,327.13 L189.10,327.54 L189.62,327.97 L190.14,328.43 L190.66,328.90 L191.19,329.40 L191.71,329.92 L192.23,330.46 L192.75,331.02 L193.28,331.59 L193.80,332.19 L194.32,332.81 L194.84,333.44 L195.37,334.09 L195.89,334.76 L196.41,335.45 L196.94,336.16 L197.46,336.88 L197.98,337.62 L198.50,338.37 L199.03,339.14 L199.55,339.92 L200.07,340.72 L200.59,341.53 L201.12,342.35 L201.64,343.19 L202.16,344.04 L202.68,344.90 L203.21,345.77 L203.73,346.65 L204.25,347.55 L204.77,348.45 L205.29,349.36 L205.82,350.29 L206.34,351.22 L206.86,352.15 L207.38,353.10 L207.91,354.05 L208.43,355.01 L208.95,355.97 L209.47,356.94 L210.00,357.92 L210.52,358.90 L211.04,359.88 L211.56,360.87 L212.09,361.86 L212.61,362.85 L213.13,363.84 L213.65,364.84 L214.18,365.83 L214.70,366.83 L215.22,367.83 L215.75,368.83 L216.27,369.82 L216.79,370.82 L217.31,371.81 L217.83,372.80 L218.36,373.79 L218.88,374.78 L219.40,375.76 L219.93,376.74 L220.45,377.72 L220.97,378.69 L221.49,379.66 L222.01,380.62 L222.54,381.58 L223.06,382.53 L223.58,383.47 L224.11,384.41 L224.63,385.35 L225.15,386.27 L225.67,387.19 L226.19,388.10 L226.72,389.01 L227.24,389.90 L227.76,390.79 L228.29,391.67 L228.81,392.54 L229.33,393.41 L229.85,394.26 L230.38,395.10 L230.90,395.94 L231.42,396.76 L231.94,397.58 L232.46,398.39 L232.99,399.18 L233.51,399.97 L234.03,400.75 L234.56,401.51 L235.08,402.27 L235.60,403.01 L236.12,403.75 L236.64,404.47 L237.17,405.19 L237.69,405.89 L238.21,406.58 L238.74,407.26 L239.26,407.93 L239.78,408.59 L240.30,409.24 L240.82,409.88 L241.35,410.51 L241.87,411.12 L242.39,411.73 L242.92,412.32 L243.44,412.91 L243.96,413.48 L244.48,414.04 L245.00,414.59 L245.53,415.13 L246.05,415.66 L246.57,416.18 L247.10,416.69 L247.62,417.19 L248.14,417.68 L248.66,418.15 L249.19,418.62 L249.71,419.08 L250.23,419.53 L250.75,419.96 L251.28,420.39 L251.80,420.81 L252.32,421.22 L252.84,421.62 L253.36,422.01 L253.89,422.39 L254.41,422.76 L254.93,423.12 L255.46,423.48 L255.98,423.82 L256.50,424.16" fill="none" stroke="#383838" stroke-width="1.25" clip-path="url(#clipc)"/>
<path d="M47.50,434.28 L48.02,434.27 L48.54,434.27 L49.07,434.26 L49.59,434.25 L50.11,434.24 L50.63,434.23 L51.16,434.22 L51.68,434.21 L52.20,434.20 L52.72,434.19 L53.25,434.18 L53.77,434.17 L54.29,434.16 L54.81,434.15 L55.34,434.13 L55.86,434.12 L56.38,434.11 L56.91,434.09 L57.43,434.08 L57.95,434.06 L58.47,434.04 L59.00,434.02 L59.52,434.00 L60.04,433.98 L60.56,433.96 L61.09,433.94 L61.61,433.92 L62.13,433.90 L62.65,433.87 L63.18,433.84 L63.70,433.82 L64.22,433.79 L64.74,433.76 L65.26,433.73 L65.79,433.70 L66.31,433.66 L66.83,433.63 L67.35,433.59 L67.88,433.56 L68.40,433.52 L68.92,433.48 L69.44,433.43 L69.97,433.39 L70.49,433.34 L71.01,433.29 L71.53,433.24 L72.06,433.19 L72.58,433.14 L73.10,433.08 L73.62,433.02 L74.15,432.96 L74.67,432.90 L75.19,432.83 L75.72,432.76 L76.24,432.69 L76.76,432.62 L77.28,432.54 L77.81,432.47 L78.33,432.38 L78.85,432.30 L79.37,432.21 L79.90,432.12 L80.42,432.02 L80.94,431.93 L81.46,431.82 L81.99,431.72 L82.51,431.61 L83.03,431.50 L83.55,431.38 L84.07,431.26 L84.60,431.14 L85.12,431.01 L85.64,430.88 L86.16,430.74 L86.69,430.60 L87.21,430.45 L87.73,430.30 L88.25,430.14 L88.78,429.98 L89.30,429.81 L89.82,429.64 L90.34,429.46 L90.87,429.28 L91.39,429.09 L91.91,428.90 L92.44,428.70 L92.96,428.49 L93.48,428.28 L94.00,428.06 L94.53,427.84 L95.05,427.61 L95.57,427.37 L96.09,427.12 L96.62,426.87 L97.14,426.61 L97.66,426.35 L98.18,426.07 L98.70,425.79 L99.23,425.50 L99.75,425.21 L100.27,424.90 L100.80,424.59 L101.32,424.27 L101.84,423.94 L102.36,423.61 L102.88,423.26 L103.41,422.91 L103.93,422.55 L104.45,422.18 L104.97,421.80 L105.50,421.41 L106.02,421.01 L106.54,420.60 L107.06,420.19 L107.59,419.76 L108.11,419.33 L108.63,418.88 L109.16,418.43 L109.68,417.96 L110.20,417.49 L110.72,417.00 L111.25,416.51 L111.77,416.00 L112.29,415.49 L112.81,414.97 L113.33,414.43 L113.86,413.88 L114.38,413.33 L114.90,412.76 L115.42,412.18 L115.95,411.60 L116.47,411.00 L116.99,410.39 L117.51,409.77 L118.04,409.14 L118.56,408.50 L119.08,407.85 L119.61,407.19 L120.13,406.52 L120.65,405.84 L121.17,405.14 L121.69,404.44 L122.22,403.73 L122.74,403.00 L123.26,402.27 L123.78,401.52 L124.31,400.77 L124.83,400.01 L125.35,399.23 L125.88,398.45 L126.40,397.65 L126.92,396.85 L127.44,396.04 L127.97,395.22 L128.49,394.39 L129.01,393.55 L129.53,392.70 L130.06,391.84 L130.58,390.98 L131.10,390.11 L131.62,389.23 L132.15,388.34 L132.67,387.44 L133.19,386.54 L133.71,385.63 L134.24,384.71 L134.76,383.79 L135.28,382.86 L135.80,381.92 L136.32,380.98 L136.85,380.04 L137.37,379.09 L137.89,378.13 L138.42,377.17 L138.94,376.21 L139.46,375.24 L139.98,374.27 L140.50,373.30 L141.03,372.32 L141.55,371.34 L142.07,370.36 L142.59,369.38 L143.12,368.40 L143.64,367.42 L144.16,366.44 L144.69,365.45 L145.21,364.47 L145.73,363.49 L146.25,362.51 L146.78,361.54 L147.30,360.56 L147.82,359.59 L148.34,358.63 L148.87,357.66 L149.39,356.70 L149.91,355.75 L150.43,354.80 L150.96,353.86 L151.48,352.92 L152.00,351.99 L152.52,351.06 L153.05,350.15 L153.57,349.24 L154.09,348.34 L154.61,347.45 L155.13,346.57 L155.66,345.70 L156.18,344.84 L156.70,343.99 L157.23,343.16 L157.75,342.33 L158.27,341.52 L158.79,340.72 L159.31,339.93 L159.84,339.16 L160.36,338.40 L160.88,337.65 L161.41,336.93 L161.93,336.21 L162.45,335.51 L162.97,334.83 L163.50,334.17 L164.02,333.52 L164.54,332.89 L165.06,332.28 L165.59,331.68 L166.11,331.11 L166.63,330.55 L167.15,330.01 L167.68,329.50 L168.20,329.00 L168.72,328.52 L169.24,328.07 L169.76,327.63 L170.29,327.22 L170.81,326.82 L171.33,326.45 L171.85,326.10 L172.38,325.77 L172.90,325.47 L173.42,325.19 L173.94,324.92 L174.47,324.69 L174.99,324.47 L175.51,324.28 L176.03,324.11 L176.56,323.97 L177.08,323.85 L177.60,323.75 L178.12,323.68 L178.65,323.62 L179.17,323.60 L179.69,323.59 L180.22,323.62 L180.74,323.66 L181.26,323.73 L181.78,323.82 L182.31,323.94 L182.83,324.08 L183.35,324.25 L183.87,324.44 L184.40,324.65 L184.92,324.89 L185.44,325.14 L185.96,325.43 L186.49,325.73 L187.01,326.06 L187.53,326.41 L188.05,326.79 L188.57,327.18 L189.10,327.60 L189.62,328.04 L190.14,328.50 L190.66,328.98 L191.19,329.49 L191.71,330.01 L192.23,330.55 L192.75,331.11 L193.28,331.70 L193.80,332.30 L194.32,332.92 L194.84,333.56 L195.37,334.21 L195.89,334.89 L196.41,335.58 L196.94,336.28 L197.46,337.01 L197.98,337.75 L198.50,338.50 L199.03,339.27 L199.55,340.05 L200.07,340.85 L200.59,341.66 L201.12,342.49 L201.64,343.33 L202.16,344.18 L202.68,345.04 L203.21,345.91 L203.73,346.79 L204.25,347.68 L204.77,348.59 L205.29,349.50 L205.82,350.42 L206.34,351.35 L206.86,352.28 L207.38,353.23 L207.91,354.18 L208.43,355.13 L208.95,356.09 L209.47,357.06 L210.00,358.03 L210.52,359.01 L211.04,359.99 L211.56,360.97 L212.09,361.96 L212.61,362.95 L213.13,363.94 L213.65,364.93 L214.18,365.92 L214.70,366.92 L215.22,367.91 L215.75,368.90 L216.27,369.90 L216.79,370.89 L217.31,371.88 L217.83,372.86 L218.36,373.85 L218.88,374.83 L219.40,375.81 L219.93,376.79 L220.45,377.76 L220.97,378.73 L221.49,379.69 L222.01,380.65 L222.54,381.60 L223.06,382.55 L223.58,383.49 L224.11,384.43 L224.63,385.36 L225.15,386.28 L225.67,387.20 L226.19,388.10 L226.72,389.00 L227.24,389.90 L227.76,390.78 L228.29,391.66 L228.81,392.53 L229.33,393.39 L229.85,394.24 L230.38,395.08 L230.90,395.91 L231.42,396.73 L231.94,397.55 L232.46,398.35 L232.99,399.14 L233.51,399.93 L234.03,400.70 L234.56,401.46 L235.08,402.22 L235.60,402.96 L236.12,403.69 L236.64,404.41 L237.17,405.13 L237.69,405.83 L238.21,406.52 L238.74,407.20 L239.26,407.87 L239.78,408.52 L240.30,409.17 L240.82,409.81 L241.35,410.43 L241.87,411.05 L242.39,411.65 L242.92,412.24 L243.44,412.83 L243.96,413.40 L244.48,413.96 L245.00,414.51 L245.53,415.05 L246.05,415.58 L246.57,416.10 L247.10,416.61 L247.62,417.10 L248.14,417.59 L248.66,418.07 L249.19,418.54 L249.71,418.99 L250.23,419.44 L250.75,419.88 L251.28,420.31 L251.80,420.73 L252.32,421.13 L252.84,421.53 L253.36,421.92 L253.89,422.30 L254.41,422.68 L254.93,423.04 L255.46,423.39 L255.98,423.74 L256.50,424.08" fill="none" stroke="#e2415a" stroke-width="1.25" stroke-dasharray="3.2 2.6" clip-path="url(#clipc)"/>
<line x1="44.2" y1="434.40" x2="47.5" y2="434.40" stroke="#3c3c3c" stroke-width="1"/>
<text x="41.50" y="438.10" text-anchor="end" font-size="12">0.0</text>
<line x1="45.7" y1="417.56" x2="47.5" y2="417.56" stroke="#3c3c3c" stroke-width="0.9"/>
<line x1="44.2" y1="400.72" x2="47.5" y2="400.72" stroke="#3c3c3c" stroke-width="1"/>
<text x="41.50" y="404.42" text-anchor="end" font-size="12">0.1</text>
<line x1="45.7" y1="383.88" x2="47.5" y2="383.88" stroke="#3c3c3c" stroke-width="0.9"/>
<line x1="44.2" y1="367.04" x2="47.5" y2="367.04" stroke="#3c3c3c" stroke-width="1"/>
<text x="41.50" y="370.74" text-anchor="end" font-size="12">0.2</text>
<line x1="45.7" y1="350.20" x2="47.5" y2="350.20" stroke="#3c3c3c" stroke-width="0.9"/>
<line x1="44.2" y1="333.36" x2="47.5" y2="333.36" stroke="#3c3c3c" stroke-width="1"/>
<text x="41.50" y="337.06" text-anchor="end" font-size="12">0.3</text>
<line x1="45.7" y1="316.52" x2="47.5" y2="316.52" stroke="#3c3c3c" stroke-width="0.9"/>
<line x1="44.2" y1="299.68" x2="47.5" y2="299.68" stroke="#3c3c3c" stroke-width="1"/>
<text x="41.50" y="303.38" text-anchor="end" font-size="12">0.4</text>
<line x1="45.7" y1="282.84" x2="47.5" y2="282.84" stroke="#3c3c3c" stroke-width="0.9"/>
<line x1="44.2" y1="266.00" x2="47.5" y2="266.00" stroke="#3c3c3c" stroke-width="1"/>
<text x="41.50" y="269.70" text-anchor="end" font-size="12">0.5</text>
<line x1="47.50" y1="434.4" x2="47.50" y2="437.7" stroke="#3c3c3c" stroke-width="1"/>
<line x1="71.68" y1="434.4" x2="71.68" y2="436.2" stroke="#3c3c3c" stroke-width="0.9"/>
<line x1="85.82" y1="434.4" x2="85.82" y2="436.2" stroke="#3c3c3c" stroke-width="0.9"/>
<line x1="95.86" y1="434.4" x2="95.86" y2="436.2" stroke="#3c3c3c" stroke-width="0.9"/>
<line x1="103.64" y1="434.4" x2="103.64" y2="436.2" stroke="#3c3c3c" stroke-width="0.9"/>
<line x1="110.00" y1="434.4" x2="110.00" y2="436.2" stroke="#3c3c3c" stroke-width="0.9"/>
<line x1="115.38" y1="434.4" x2="115.38" y2="436.2" stroke="#3c3c3c" stroke-width="0.9"/>
<line x1="120.04" y1="434.4" x2="120.04" y2="436.2" stroke="#3c3c3c" stroke-width="0.9"/>
<line x1="124.15" y1="434.4" x2="124.15" y2="436.2" stroke="#3c3c3c" stroke-width="0.9"/>
<line x1="127.82" y1="434.4" x2="127.82" y2="437.7" stroke="#3c3c3c" stroke-width="1"/>
<line x1="152.00" y1="434.4" x2="152.00" y2="436.2" stroke="#3c3c3c" stroke-width="0.9"/>
<line x1="166.14" y1="434.4" x2="166.14" y2="436.2" stroke="#3c3c3c" stroke-width="0.9"/>
<line x1="176.18" y1="434.4" x2="176.18" y2="436.2" stroke="#3c3c3c" stroke-width="0.9"/>
<line x1="183.96" y1="434.4" x2="183.96" y2="436.2" stroke="#3c3c3c" stroke-width="0.9"/>
<line x1="190.32" y1="434.4" x2="190.32" y2="436.2" stroke="#3c3c3c" stroke-width="0.9"/>
<line x1="195.70" y1="434.4" x2="195.70" y2="436.2" stroke="#3c3c3c" stroke-width="0.9"/>
<line x1="200.36" y1="434.4" x2="200.36" y2="436.2" stroke="#3c3c3c" stroke-width="0.9"/>
<line x1="204.47" y1="434.4" x2="204.47" y2="436.2" stroke="#3c3c3c" stroke-width="0.9"/>
<line x1="208.14" y1="434.4" x2="208.14" y2="437.7" stroke="#3c3c3c" stroke-width="1"/>
<line x1="232.32" y1="434.4" x2="232.32" y2="436.2" stroke="#3c3c3c" stroke-width="0.9"/>
<line x1="246.46" y1="434.4" x2="246.46" y2="436.2" stroke="#3c3c3c" stroke-width="0.9"/>
<line x1="256.50" y1="434.4" x2="256.50" y2="436.2" stroke="#3c3c3c" stroke-width="0.9"/>
<text x="47.50" y="449.60" text-anchor="middle" font-size="12">0.01</text>
<text x="127.82" y="449.60" text-anchor="middle" font-size="12">0.1</text>
<text x="208.14" y="449.60" text-anchor="middle" font-size="12">1</text>
<text transform="translate(14.7,341.5) rotate(-90)" text-anchor="middle" font-size="12.85">Volume concentration (μm<tspan font-size="8.35" dy="-4.88">3</tspan><tspan dy="4.88">/μm</tspan><tspan font-size="8.35" dy="-4.88">2</tspan><tspan dy="4.88">)</tspan></text>
<text x="152.5" y="470.0" text-anchor="middle" font-size="12.9">Radius (μm)</text>
<text x="130.8" y="496.6" text-anchor="middle" font-size="13.2" letter-spacing="0.45">(<tspan font-weight="bold">c</tspan>)</text>
<line x1="70.5" y1="284.5" x2="98.7" y2="284.5" stroke="#383838" stroke-width="1.25"/>
<line x1="70.0" y1="315.3" x2="96.4" y2="315.3" stroke="#e2415a" stroke-width="1.25" stroke-dasharray="3.2 2.6"/>
<text x="102.5" y="288.8" font-size="12.8">AERONET</text>
<text x="70.8" y="304.0" font-size="12.8">(18 July 2018, Mezaira)</text>
<text x="102.5" y="320.0" font-size="12.8">ISPSO</text></g>
<g font-family="'Liberation Serif','Times New Roman',serif" fill="#1e1e1e"><rect x="337.5" y="266.1" width="209.20000000000005" height="168.2" fill="none" stroke="#6e6e6e" stroke-width="1.0"/>
<clipPath id="clipd"><rect x="337.5" y="263.1" width="209.20000000000005" height="171.2"/></clipPath>
<path d="M337.50,433.85 L338.02,433.82 L338.55,433.80 L339.07,433.77 L339.59,433.74 L340.12,433.71 L340.64,433.68 L341.16,433.64 L341.68,433.61 L342.21,433.57 L342.73,433.53 L343.25,433.49 L343.78,433.45 L344.30,433.40 L344.82,433.35 L345.35,433.30 L345.87,433.25 L346.39,433.20 L346.91,433.14 L347.44,433.08 L347.96,433.02 L348.48,432.95 L349.01,432.89 L349.53,432.81 L350.05,432.74 L350.57,432.66 L351.10,432.58 L351.62,432.50 L352.14,432.41 L352.67,432.32 L353.19,432.22 L353.71,432.12 L354.24,432.02 L354.76,431.91 L355.28,431.80 L355.81,431.69 L356.33,431.56 L356.85,431.44 L357.37,431.31 L357.90,431.17 L358.42,431.03 L358.94,430.88 L359.47,430.73 L359.99,430.57 L360.51,430.41 L361.04,430.24 L361.56,430.06 L362.08,429.88 L362.60,429.69 L363.13,429.49 L363.65,429.29 L364.17,429.08 L364.70,428.86 L365.22,428.63 L365.74,428.40 L366.26,428.16 L366.79,427.91 L367.31,427.65 L367.83,427.38 L368.36,427.11 L368.88,426.82 L369.40,426.53 L369.93,426.23 L370.45,425.92 L370.97,425.59 L371.50,425.26 L372.02,424.92 L372.54,424.57 L373.06,424.21 L373.59,423.84 L374.11,423.45 L374.63,423.06 L375.16,422.65 L375.68,422.24 L376.20,421.81 L376.73,421.37 L377.25,420.92 L377.77,420.45 L378.29,419.98 L378.82,419.49 L379.34,418.99 L379.86,418.48 L380.39,417.95 L380.91,417.41 L381.43,416.86 L381.95,416.30 L382.48,415.72 L383.00,415.13 L383.52,414.53 L384.05,413.91 L384.57,413.28 L385.09,412.64 L385.62,411.98 L386.14,411.31 L386.66,410.62 L387.19,409.92 L387.71,409.21 L388.23,408.48 L388.75,407.74 L389.28,406.99 L389.80,406.22 L390.32,405.44 L390.85,404.65 L391.37,403.84 L391.89,403.02 L392.42,402.18 L392.94,401.34 L393.46,400.47 L393.98,399.60 L394.51,398.71 L395.03,397.81 L395.55,396.90 L396.08,395.98 L396.60,395.04 L397.12,394.09 L397.64,393.14 L398.17,392.16 L398.69,391.18 L399.21,390.19 L399.74,389.19 L400.26,388.18 L400.78,387.15 L401.31,386.12 L401.83,385.08 L402.35,384.03 L402.88,382.97 L403.40,381.91 L403.92,380.83 L404.44,379.75 L404.97,378.67 L405.49,377.57 L406.01,376.47 L406.54,375.37 L407.06,374.26 L407.58,373.15 L408.11,372.04 L408.63,370.92 L409.15,369.80 L409.67,368.68 L410.20,367.55 L410.72,366.43 L411.24,365.30 L411.77,364.18 L412.29,363.06 L412.81,361.94 L413.34,360.82 L413.86,359.71 L414.38,358.60 L414.90,357.49 L415.43,356.39 L415.95,355.30 L416.47,354.21 L417.00,353.13 L417.52,352.06 L418.04,351.00 L418.57,349.94 L419.09,348.90 L419.61,347.87 L420.13,346.85 L420.66,345.84 L421.18,344.84 L421.70,343.86 L422.23,342.89 L422.75,341.94 L423.27,341.00 L423.80,340.08 L424.32,339.18 L424.84,338.30 L425.36,337.43 L425.89,336.58 L426.41,335.75 L426.93,334.94 L427.46,334.16 L427.98,333.39 L428.50,332.65 L429.03,331.93 L429.55,331.23 L430.07,330.56 L430.59,329.91 L431.12,329.29 L431.64,328.69 L432.16,328.11 L432.69,327.57 L433.21,327.05 L433.73,326.55 L434.25,326.09 L434.78,325.65 L435.30,325.24 L435.82,324.86 L436.35,324.51 L436.87,324.19 L437.39,323.90 L437.92,323.63 L438.44,323.40 L438.96,323.20 L439.49,323.02 L440.01,322.88 L440.53,322.77 L441.05,322.69 L441.58,322.64 L442.10,322.62 L442.62,322.63 L443.15,322.67 L443.67,322.74 L444.19,322.84 L444.72,322.98 L445.24,323.14 L445.76,323.33 L446.28,323.56 L446.81,323.81 L447.33,324.10 L447.85,324.41 L448.38,324.75 L448.90,325.12 L449.42,325.53 L449.95,325.95 L450.47,326.41 L450.99,326.90 L451.51,327.41 L452.04,327.95 L452.56,328.51 L453.08,329.10 L453.61,329.72 L454.13,330.36 L454.65,331.03 L455.18,331.72 L455.70,332.43 L456.22,333.17 L456.74,333.92 L457.27,334.71 L457.79,335.51 L458.31,336.33 L458.84,337.17 L459.36,338.03 L459.88,338.91 L460.41,339.81 L460.93,340.72 L461.45,341.66 L461.97,342.60 L462.50,343.57 L463.02,344.54 L463.54,345.54 L464.07,346.54 L464.59,347.56 L465.11,348.59 L465.64,349.63 L466.16,350.68 L466.68,351.74 L467.20,352.81 L467.73,353.89 L468.25,354.97 L468.77,356.06 L469.30,357.16 L469.82,358.26 L470.34,359.37 L470.87,360.49 L471.39,361.60 L471.91,362.72 L472.43,363.84 L472.96,364.97 L473.48,366.09 L474.00,367.21 L474.53,368.34 L475.05,369.46 L475.57,370.58 L476.10,371.70 L476.62,372.82 L477.14,373.93 L477.66,375.04 L478.19,376.14 L478.71,377.24 L479.23,378.34 L479.76,379.43 L480.28,380.51 L480.80,381.58 L481.33,382.65 L481.85,383.71 L482.37,384.76 L482.89,385.81 L483.42,386.84 L483.94,387.87 L484.46,388.88 L484.99,389.89 L485.51,390.89 L486.03,391.87 L486.56,392.84 L487.08,393.81 L487.60,394.76 L488.12,395.70 L488.65,396.63 L489.17,397.54 L489.69,398.44 L490.22,399.33 L490.74,400.21 L491.26,401.08 L491.79,401.93 L492.31,402.77 L492.83,403.59 L493.35,404.41 L493.88,405.20 L494.40,405.99 L494.92,406.76 L495.45,407.52 L495.97,408.26 L496.49,408.99 L497.01,409.71 L497.54,410.41 L498.06,411.10 L498.58,411.78 L499.11,412.44 L499.63,413.09 L500.15,413.72 L500.68,414.34 L501.20,414.95 L501.72,415.55 L502.25,416.13 L502.77,416.70 L503.29,417.25 L503.81,417.79 L504.34,418.32 L504.86,418.84 L505.38,419.34 L505.91,419.83 L506.43,420.31 L506.95,420.78 L507.48,421.23 L508.00,421.68 L508.52,422.11 L509.04,422.53 L509.57,422.94 L510.09,423.34 L510.61,423.72 L511.14,424.10 L511.66,424.46 L512.18,424.82 L512.71,425.16 L513.23,425.50 L513.75,425.82 L514.27,426.14 L514.80,426.44 L515.32,426.74 L515.84,427.02 L516.37,427.30 L516.89,427.57 L517.41,427.83 L517.94,428.08 L518.46,428.33 L518.98,428.56 L519.50,428.79 L520.03,429.01 L520.55,429.22 L521.07,429.43 L521.60,429.63 L522.12,429.82 L522.64,430.01 L523.16,430.18 L523.69,430.36 L524.21,430.52 L524.73,430.68 L525.26,430.84 L525.78,430.99 L526.30,431.13 L526.83,431.27 L527.35,431.40 L527.87,431.53 L528.39,431.65 L528.92,431.77 L529.44,431.88 L529.96,431.99 L530.49,432.09 L531.01,432.19 L531.53,432.29 L532.06,432.38 L532.58,432.47 L533.10,432.56 L533.62,432.64 L534.15,432.72 L534.67,432.79 L535.19,432.86 L535.72,432.93 L536.24,433.00 L536.76,433.06 L537.29,433.12 L537.81,433.18 L538.33,433.24 L538.86,433.29 L539.38,433.34 L539.90,433.39 L540.42,433.43 L540.95,433.48 L541.47,433.52 L541.99,433.56 L542.52,433.60 L543.04,433.63 L543.56,433.67 L544.09,433.70 L544.61,433.73 L545.13,433.76 L545.65,433.79 L546.18,433.82 L546.70,433.84" fill="none" stroke="#383838" stroke-width="1.25" clip-path="url(#clipd)"/>
<path d="M337.50,433.66 L338.02,433.63 L338.55,433.59 L339.07,433.55 L339.59,433.51 L340.12,433.47 L340.64,433.43 L341.16,433.39 L341.68,433.34 L342.21,433.29 L342.73,433.24 L343.25,433.19 L343.78,433.13 L344.30,433.07 L344.82,433.01 L345.35,432.95 L345.87,432.88 L346.39,432.82 L346.91,432.74 L347.44,432.67 L347.96,432.59 L348.48,432.51 L349.01,432.43 L349.53,432.34 L350.05,432.25 L350.57,432.15 L351.10,432.05 L351.62,431.95 L352.14,431.84 L352.67,431.73 L353.19,431.61 L353.71,431.49 L354.24,431.37 L354.76,431.24 L355.28,431.11 L355.81,430.97 L356.33,430.82 L356.85,430.67 L357.37,430.52 L357.90,430.36 L358.42,430.19 L358.94,430.02 L359.47,429.84 L359.99,429.65 L360.51,429.46 L361.04,429.26 L361.56,429.06 L362.08,428.84 L362.60,428.63 L363.13,428.40 L363.65,428.17 L364.17,427.92 L364.70,427.67 L365.22,427.42 L365.74,427.15 L366.26,426.88 L366.79,426.60 L367.31,426.31 L367.83,426.01 L368.36,425.70 L368.88,425.38 L369.40,425.05 L369.93,424.72 L370.45,424.37 L370.97,424.01 L371.50,423.65 L372.02,423.27 L372.54,422.88 L373.06,422.49 L373.59,422.08 L374.11,421.66 L374.63,421.23 L375.16,420.79 L375.68,420.34 L376.20,419.87 L376.73,419.40 L377.25,418.91 L377.77,418.41 L378.29,417.90 L378.82,417.38 L379.34,416.85 L379.86,416.30 L380.39,415.74 L380.91,415.17 L381.43,414.58 L381.95,413.99 L382.48,413.38 L383.00,412.76 L383.52,412.12 L384.05,411.47 L384.57,410.81 L385.09,410.14 L385.62,409.45 L386.14,408.75 L386.66,408.04 L387.19,407.32 L387.71,406.58 L388.23,405.83 L388.75,405.06 L389.28,404.29 L389.80,403.50 L390.32,402.70 L390.85,401.88 L391.37,401.06 L391.89,400.22 L392.42,399.37 L392.94,398.51 L393.46,397.63 L393.98,396.75 L394.51,395.85 L395.03,394.94 L395.55,394.02 L396.08,393.09 L396.60,392.15 L397.12,391.20 L397.64,390.24 L398.17,389.26 L398.69,388.28 L399.21,387.29 L399.74,386.29 L400.26,385.29 L400.78,384.27 L401.31,383.25 L401.83,382.21 L402.35,381.18 L402.88,380.13 L403.40,379.08 L403.92,378.02 L404.44,376.96 L404.97,375.89 L405.49,374.82 L406.01,373.74 L406.54,372.66 L407.06,371.58 L407.58,370.49 L408.11,369.41 L408.63,368.32 L409.15,367.23 L409.67,366.14 L410.20,365.05 L410.72,363.96 L411.24,362.87 L411.77,361.78 L412.29,360.70 L412.81,359.62 L413.34,358.54 L413.86,357.47 L414.38,356.40 L414.90,355.34 L415.43,354.28 L415.95,353.24 L416.47,352.19 L417.00,351.16 L417.52,350.14 L418.04,349.12 L418.57,348.11 L419.09,347.12 L419.61,346.14 L420.13,345.16 L420.66,344.21 L421.18,343.26 L421.70,342.33 L422.23,341.41 L422.75,340.51 L423.27,339.62 L423.80,338.75 L424.32,337.90 L424.84,337.06 L425.36,336.24 L425.89,335.44 L426.41,334.66 L426.93,333.90 L427.46,333.16 L427.98,332.45 L428.50,331.75 L429.03,331.07 L429.55,330.42 L430.07,329.79 L430.59,329.18 L431.12,328.60 L431.64,328.04 L432.16,327.50 L432.69,326.99 L433.21,326.51 L433.73,326.05 L434.25,325.62 L434.78,325.21 L435.30,324.83 L435.82,324.48 L436.35,324.16 L436.87,323.86 L437.39,323.59 L437.92,323.35 L438.44,323.14 L438.96,322.95 L439.49,322.80 L440.01,322.67 L440.53,322.57 L441.05,322.50 L441.58,322.46 L442.10,322.45 L442.62,322.46 L443.15,322.51 L443.67,322.58 L444.19,322.69 L444.72,322.82 L445.24,322.98 L445.76,323.17 L446.28,323.38 L446.81,323.63 L447.33,323.90 L447.85,324.20 L448.38,324.53 L448.90,324.89 L449.42,325.27 L449.95,325.68 L450.47,326.12 L450.99,326.58 L451.51,327.07 L452.04,327.58 L452.56,328.12 L453.08,328.68 L453.61,329.27 L454.13,329.88 L454.65,330.51 L455.18,331.17 L455.70,331.85 L456.22,332.55 L456.74,333.27 L457.27,334.02 L457.79,334.78 L458.31,335.56 L458.84,336.36 L459.36,337.18 L459.88,338.02 L460.41,338.88 L460.93,339.75 L461.45,340.64 L461.97,341.55 L462.50,342.47 L463.02,343.40 L463.54,344.35 L464.07,345.31 L464.59,346.28 L465.11,347.27 L465.64,348.26 L466.16,349.27 L466.68,350.29 L467.20,351.31 L467.73,352.35 L468.25,353.39 L468.77,354.44 L469.30,355.50 L469.82,356.56 L470.34,357.63 L470.87,358.70 L471.39,359.78 L471.91,360.86 L472.43,361.95 L472.96,363.03 L473.48,364.12 L474.00,365.21 L474.53,366.30 L475.05,367.39 L475.57,368.48 L476.10,369.57 L476.62,370.66 L477.14,371.74 L477.66,372.82 L478.19,373.90 L478.71,374.98 L479.23,376.05 L479.76,377.12 L480.28,378.18 L480.80,379.24 L481.33,380.29 L481.85,381.33 L482.37,382.37 L482.89,383.40 L483.42,384.42 L483.94,385.44 L484.46,386.44 L484.99,387.44 L485.51,388.43 L486.03,389.41 L486.56,390.38 L487.08,391.34 L487.60,392.29 L488.12,393.23 L488.65,394.16 L489.17,395.08 L489.69,395.98 L490.22,396.88 L490.74,397.76 L491.26,398.64 L491.79,399.50 L492.31,400.35 L492.83,401.18 L493.35,402.01 L493.88,402.82 L494.40,403.62 L494.92,404.40 L495.45,405.18 L495.97,405.94 L496.49,406.69 L497.01,407.43 L497.54,408.15 L498.06,408.86 L498.58,409.56 L499.11,410.24 L499.63,410.91 L500.15,411.57 L500.68,412.22 L501.20,412.85 L501.72,413.47 L502.25,414.08 L502.77,414.67 L503.29,415.25 L503.81,415.82 L504.34,416.38 L504.86,416.93 L505.38,417.46 L505.91,417.98 L506.43,418.49 L506.95,418.98 L507.48,419.47 L508.00,419.94 L508.52,420.40 L509.04,420.86 L509.57,421.29 L510.09,421.72 L510.61,422.14 L511.14,422.55 L511.66,422.94 L512.18,423.33 L512.71,423.70 L513.23,424.07 L513.75,424.42 L514.27,424.77 L514.80,425.10 L515.32,425.43 L515.84,425.74 L516.37,426.05 L516.89,426.35 L517.41,426.64 L517.94,426.92 L518.46,427.19 L518.98,427.46 L519.50,427.71 L520.03,427.96 L520.55,428.20 L521.07,428.43 L521.60,428.66 L522.12,428.88 L522.64,429.09 L523.16,429.29 L523.69,429.49 L524.21,429.68 L524.73,429.86 L525.26,430.04 L525.78,430.21 L526.30,430.38 L526.83,430.54 L527.35,430.69 L527.87,430.84 L528.39,430.99 L528.92,431.13 L529.44,431.26 L529.96,431.39 L530.49,431.51 L531.01,431.63 L531.53,431.75 L532.06,431.86 L532.58,431.96 L533.10,432.07 L533.62,432.17 L534.15,432.26 L534.67,432.35 L535.19,432.44 L535.72,432.52 L536.24,432.60 L536.76,432.68 L537.29,432.75 L537.81,432.83 L538.33,432.89 L538.86,432.96 L539.38,433.02 L539.90,433.08 L540.42,433.14 L540.95,433.19 L541.47,433.25 L541.99,433.30 L542.52,433.35 L543.04,433.39 L543.56,433.44 L544.09,433.48 L544.61,433.52 L545.13,433.56 L545.65,433.60 L546.18,433.63 L546.70,433.66" fill="none" stroke="#e2415a" stroke-width="1.25" stroke-dasharray="3.2 2.6" clip-path="url(#clipd)"/>
<line x1="334.2" y1="434.30" x2="337.5" y2="434.30" stroke="#3c3c3c" stroke-width="1"/>
<text x="331.50" y="438.00" text-anchor="end" font-size="12">0.0</text>
<line x1="335.7" y1="413.28" x2="337.5" y2="413.28" stroke="#3c3c3c" stroke-width="0.9"/>
<line x1="334.2" y1="392.25" x2="337.5" y2="392.25" stroke="#3c3c3c" stroke-width="1"/>
<text x="331.50" y="395.95" text-anchor="end" font-size="12">0.5</text>
<line x1="335.7" y1="371.23" x2="337.5" y2="371.23" stroke="#3c3c3c" stroke-width="0.9"/>
<line x1="334.2" y1="350.20" x2="337.5" y2="350.20" stroke="#3c3c3c" stroke-width="1"/>
<text x="331.50" y="353.90" text-anchor="end" font-size="12">1.0</text>
<line x1="335.7" y1="329.18" x2="337.5" y2="329.18" stroke="#3c3c3c" stroke-width="0.9"/>
<line x1="334.2" y1="308.15" x2="337.5" y2="308.15" stroke="#3c3c3c" stroke-width="1"/>
<text x="331.50" y="311.85" text-anchor="end" font-size="12">1.5</text>
<line x1="335.7" y1="287.12" x2="337.5" y2="287.12" stroke="#3c3c3c" stroke-width="0.9"/>
<line x1="334.2" y1="266.10" x2="337.5" y2="266.10" stroke="#3c3c3c" stroke-width="1"/>
<text x="331.50" y="269.80" text-anchor="end" font-size="12">2.0</text>
<line x1="337.50" y1="434.3" x2="337.50" y2="437.6" stroke="#3c3c3c" stroke-width="1"/>
<line x1="371.63" y1="434.3" x2="371.63" y2="436.1" stroke="#3c3c3c" stroke-width="0.9"/>
<line x1="391.60" y1="434.3" x2="391.60" y2="436.1" stroke="#3c3c3c" stroke-width="0.9"/>
<line x1="405.76" y1="434.3" x2="405.76" y2="436.1" stroke="#3c3c3c" stroke-width="0.9"/>
<line x1="416.75" y1="434.3" x2="416.75" y2="436.1" stroke="#3c3c3c" stroke-width="0.9"/>
<line x1="425.73" y1="434.3" x2="425.73" y2="436.1" stroke="#3c3c3c" stroke-width="0.9"/>
<line x1="433.32" y1="434.3" x2="433.32" y2="436.1" stroke="#3c3c3c" stroke-width="0.9"/>
<line x1="439.89" y1="434.3" x2="439.89" y2="436.1" stroke="#3c3c3c" stroke-width="0.9"/>
<line x1="445.69" y1="434.3" x2="445.69" y2="436.1" stroke="#3c3c3c" stroke-width="0.9"/>
<line x1="450.88" y1="434.3" x2="450.88" y2="437.6" stroke="#3c3c3c" stroke-width="1"/>
<line x1="485.01" y1="434.3" x2="485.01" y2="436.1" stroke="#3c3c3c" stroke-width="0.9"/>
<line x1="504.98" y1="434.3" x2="504.98" y2="436.1" stroke="#3c3c3c" stroke-width="0.9"/>
<line x1="519.14" y1="434.3" x2="519.14" y2="436.1" stroke="#3c3c3c" stroke-width="0.9"/>
<line x1="530.13" y1="434.3" x2="530.13" y2="436.1" stroke="#3c3c3c" stroke-width="0.9"/>
<line x1="539.11" y1="434.3" x2="539.11" y2="436.1" stroke="#3c3c3c" stroke-width="0.9"/>
<line x1="546.70" y1="434.3" x2="546.70" y2="436.1" stroke="#3c3c3c" stroke-width="0.9"/>
<text x="337.50" y="449.50" text-anchor="middle" font-size="12">0.1</text>
<text x="450.88" y="449.50" text-anchor="middle" font-size="12">1</text>
<text transform="translate(304.9,341.8) rotate(-90)" text-anchor="middle" font-size="12.88">Volume concentration (μm<tspan font-size="8.37" dy="-4.89">3</tspan><tspan dy="4.89">/μm</tspan><tspan font-size="8.37" dy="-4.89">2</tspan><tspan dy="4.89">)</tspan></text>
<text x="442.3" y="470.0" text-anchor="middle" font-size="12.85">Radius (μm)</text>
<text x="419.5" y="496.6" text-anchor="middle" font-size="13.2" letter-spacing="0.45">(<tspan font-weight="bold">d</tspan>)</text>
<line x1="353.7" y1="285.2" x2="382.1" y2="285.2" stroke="#383838" stroke-width="1.25"/>
<line x1="353.4" y1="316.2" x2="379.8" y2="316.2" stroke="#e2415a" stroke-width="1.25" stroke-dasharray="3.2 2.6"/>
<text x="385.5" y="289.1" font-size="12.7">AERONET</text>
<text x="354" y="304.8" font-size="12.7">(31 July 2018, Mezaira)</text>
<text x="385.5" y="320.1" font-size="12.7">ISPSO</text></g>
</svg>
</body></html>
